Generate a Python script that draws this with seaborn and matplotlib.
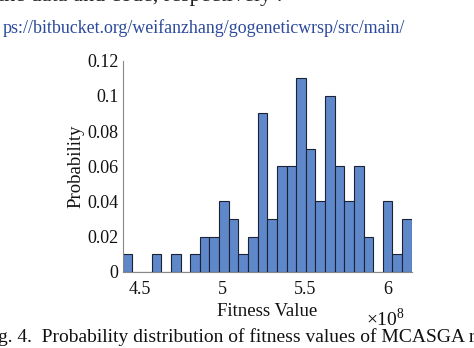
import numpy as np
import pandas as pd
import matplotlib
matplotlib.use("Agg")
import matplotlib.pyplot as plt
from matplotlib.ticker import FuncFormatter
import seaborn as sns

# Histogram of final fitness values (probability per bin), 30 bins
bin_lo = 4.395e8
bin_hi = 6.148e8
n_bins = 30
probability = [0.01, 0.00, 0.00, 0.01, 0.00, 0.01, 0.00, 0.01, 0.02, 0.02,
               0.04, 0.03, 0.01, 0.02, 0.09, 0.03, 0.06, 0.06, 0.11, 0.07,
               0.04, 0.10, 0.06, 0.04, 0.06, 0.02, 0.00, 0.04, 0.01, 0.03]
x_ticks = [4.5e8, 5.0e8, 5.5e8, 6.0e8]
y_ticks = [0, 0.02, 0.04, 0.06, 0.08, 0.1, 0.12]

edges = np.linspace(bin_lo, bin_hi, n_bins + 1)
centers = (edges[:-1] + edges[1:]) / 2
df = pd.DataFrame({"fitness": centers, "prob": probability})

sns.set_theme(style="white")
plt.rcParams["font.family"] = ["Liberation Serif", "DejaVu Serif"]
plt.rcParams["mathtext.fontset"] = "custom"
plt.rcParams["mathtext.rm"] = "Liberation Serif"

fig = plt.figure(figsize=(4.74, 3.48), dpi=100)
ax = fig.add_axes([0.259, 0.2193, 0.6096, 0.6063])

sns.histplot(data=df, x="fitness", weights="prob", bins=n_bins,
             binrange=(bin_lo, bin_hi), ax=ax,
             color="#5f88cb", alpha=1.0, edgecolor="#1c2233", linewidth=0.8)

ax.set_xlim(bin_lo, bin_hi)
ax.set_ylim(0, 0.12)
ax.set_xticks(x_ticks)
ax.set_yticks(y_ticks)
ax.xaxis.set_major_formatter(FuncFormatter(lambda v, p: f"{v / 1e8:g}"))
ax.yaxis.set_major_formatter(FuncFormatter(lambda v, p: f"{v:g}"))
ax.tick_params(direction="in", length=4, width=0.8, colors="#555555",
               labelcolor="#111111", labelsize=13, pad=3)
ax.tick_params(axis="x", pad=7)

for side in ("top", "right"):
    ax.spines[side].set_visible(False)
for side in ("left", "bottom"):
    ax.spines[side].set_color("#888888")
    ax.spines[side].set_linewidth(0.8)

ax.set_xlabel("Fitness Value", fontsize=13.5, color="#111111", labelpad=3)
ax.set_ylabel("Probability", fontsize=13.5, color="#111111", labelpad=2)
ax.text(0.975, -0.17, r"$\times10^{8}$", transform=ax.transAxes,
        ha="right", va="top", fontsize=14, color="#111111")

# Surrounding page text
fig.text(-0.005, 1 - 1 / 348, "the data and code, respectively .", fontsize=16,
         color="#222222", ha="left", va="baseline")
fig.text(0.006, 0.918, "ps://bitbucket.org/weifanzhang/gogeneticwrsp/src/main/",
         fontsize=12.9, color="#2c4a9c", ha="left", va="center")
fig.text(-0.005, 0.03,
         "g. 4.  Probability distribution of fitness values of MCASGA results",
         fontsize=14, color="#111111", ha="left", va="center")

fig.savefig("out.png", dpi=100)
